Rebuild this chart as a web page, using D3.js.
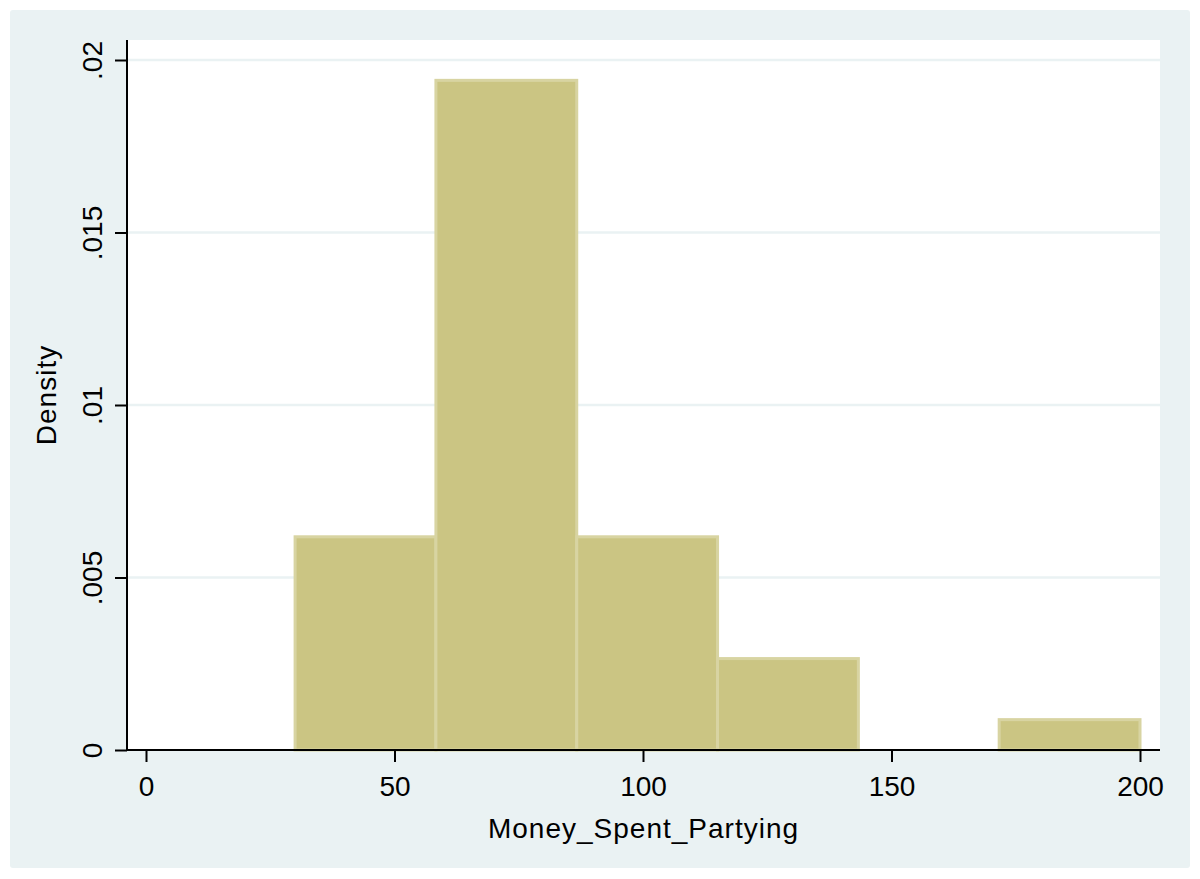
<!DOCTYPE html>
<html>
<head>
<meta charset="utf-8">
<script src="https://cdn.jsdelivr.net/npm/d3@7"></script>
<style>
  body { margin: 0; background: #fff; }
  text { font-family: "Liberation Sans", Arial, sans-serif; fill: #000; }
</style>
</head>
<body>
<svg id="chart"></svg>
<script>
// histogram bins (lower/upper edge) and density
let binStart = [30, 58.333, 86.667, 115, 143.333, 171.667];
let binEnd   = [58.333, 86.667, 115, 143.333, 171.667, 200];
let density  = [0.00618, 0.01941, 0.00618, 0.00265, 0, 0.00088];

let xTicks = [0, 50, 100, 150, 200];
let yTicks = [0, 0.005, 0.01, 0.015, 0.02];

let width = 1200;
let height = 879;
let plot = {left: 127, right: 1160, top: 40, bottom: 750};

let svg = d3.select("#chart")
    .attr("width", width)
    .attr("height", height);

// outer background
svg.append("rect")
    .attr("x", 10)
    .attr("y", 10)
    .attr("width", 1180)
    .attr("height", 858)
    .attr("rx", 3)
    .attr("fill", "#eaf2f3");

// plot region
svg.append("rect")
    .attr("x", plot.left)
    .attr("y", plot.top)
    .attr("width", plot.right - plot.left)
    .attr("height", plot.bottom - plot.top)
    .attr("fill", "#ffffff");

let xScale = d3.scaleLinear()
    .domain([0, 200])
    .range([146, 1140]);

let yScale = d3.scaleLinear()
    .domain([0, 0.02])
    .range([750, 60]);

// gridlines
svg.append("g")
    .selectAll("line")
    .data(yTicks.filter(d => d > 0))
    .enter()
    .append("line")
    .attr("x1", plot.left)
    .attr("x2", plot.right)
    .attr("y1", d => yScale(d))
    .attr("y2", d => yScale(d))
    .attr("stroke", "#eaf2f3")
    .attr("stroke-width", 2.5);

// bars
let bars = svg.append("g");
density.forEach((d, i) => {
    if (d <= 0) return;
    bars.append("rect")
        .attr("x", xScale(binStart[i]))
        .attr("y", yScale(d))
        .attr("width", xScale(binEnd[i]) - xScale(binStart[i]))
        .attr("height", yScale(0) - yScale(d))
        .attr("fill", "#cbc583")
        .attr("stroke", "#d8d4a2")
        .attr("stroke-width", 3);
});

let fmtY = d => d === 0 ? "0" : d3.format(".3~f")(d).replace(/^0\./, ".");

// x axis
let xAxis = d3.axisBottom(xScale)
    .tickValues(xTicks)
    .tickSize(12)
    .tickSizeOuter(0)
    .tickPadding(14);

let gx = svg.append("g")
    .attr("transform", "translate(0," + plot.bottom + ")")
    .call(xAxis);
gx.select(".domain").remove();
gx.selectAll("line").attr("stroke", "#000").attr("stroke-width", 2);
gx.selectAll("text")
    .style("font-size", "28px")
    .attr("fill", "#000");

// y axis
let yAxis = d3.axisLeft(yScale)
    .tickValues(yTicks)
    .tickFormat(fmtY)
    .tickSize(12)
    .tickSizeOuter(0)
    .tickPadding(13);

let gy = svg.append("g")
    .attr("transform", "translate(" + plot.left + ",0)")
    .call(yAxis);
gy.select(".domain").remove();
gy.selectAll("line").attr("stroke", "#000").attr("stroke-width", 2);
gy.selectAll("text")
    .attr("transform", "rotate(-90)")
    .attr("x", 0)
    .attr("y", -25)
    .attr("dy", 0)
    .style("text-anchor", "middle")
    .style("font-size", "28px")
    .attr("fill", "#000");

// axis lines
svg.append("line")
    .attr("x1", plot.left)
    .attr("x2", plot.right)
    .attr("y1", plot.bottom)
    .attr("y2", plot.bottom)
    .attr("stroke", "#000")
    .attr("stroke-width", 2);

svg.append("line")
    .attr("x1", plot.left)
    .attr("x2", plot.left)
    .attr("y1", plot.top)
    .attr("y2", plot.bottom + 1)
    .attr("stroke", "#000")
    .attr("stroke-width", 2);

// titles
svg.append("text")
    .attr("x", (plot.left + plot.right) / 2)
    .attr("y", 838)
    .style("text-anchor", "middle")
    .style("font-size", "28px")
    .style("letter-spacing", "1px")
    .text("Money_Spent_Partying");

svg.append("text")
    .attr("transform", "translate(56," + (plot.top + plot.bottom) / 2 + ")rotate(-90)")
    .style("text-anchor", "middle")
    .style("font-size", "28px")
    .style("letter-spacing", "1px")
    .text("Density");
</script>
</body>
</html>
